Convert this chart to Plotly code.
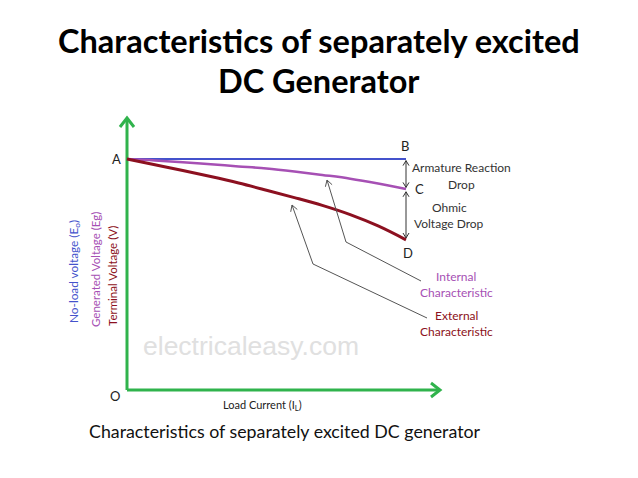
import math
import plotly.graph_objects as go

# ---- data (load current in arbitrary units, voltages in % of no-load) ----
load_current = [0, 1, 2, 3, 4, 5, 6, 7, 8, 9, 10]
no_load_voltage = [100, 100, 100, 100, 100, 100, 100, 100, 100, 100, 100]
generated_voltage = [100, 99.4, 98.6, 97.7, 96.8, 95.9, 94.6, 93.1, 91.5, 89.4, 87.0]
terminal_voltage = [100, 97.5, 95.0, 92.4, 89.6, 86.5, 83.3, 79.9, 75.9, 71.0, 65.0]

# screen-pixel -> data helpers for placing labels (origin at screen pixel 127,390)
PX_X, PX_Y = 27.9, 2.31
PAGE_OFF = 8  # default body margin of the html page
def X(px):
    return (px - 127) / PX_X
def Y(py):
    return (390 - py) / PX_Y
def PX(x):
    return 127 + x * PX_X
def PY(y):
    return 390 - y * PX_Y

BLUE = "#4452cc"
PURPLE = "#a650b4"
DARKRED = "#8c1020"
GREEN = "#30b34c"
ARROW = "#555555"
FONT = "Lato"

fig = go.Figure()

def seg(xs, ys, color, width):
    fig.add_trace(go.Scatter(x=xs, y=ys, mode="lines", line=dict(color=color, width=width),
                             hoverinfo="skip"))

def head(tx, ty, fx, fy, color, width, L, W):
    """open chevron at data point (tx,ty) pointing away from (fx,fy); sizes in pixels"""
    ptx, pty, pfx, pfy = PX(tx), PY(ty), PX(fx), PY(fy)
    dx, dy = ptx - pfx, pty - pfy
    n = math.hypot(dx, dy)
    ux, uy = dx / n, dy / n
    bx, by = ptx - ux * L, pty - uy * L
    lx, ly = bx - uy * W, by + ux * W
    rx, ry = bx + uy * W, by - ux * W
    seg([X(lx), X(ptx), X(rx)], [Y(ly), Y(pty), Y(ry)], color, width)

# green axes with open arrowheads
x_tip, y_tip = X(440), Y(118)
seg([0, 0], [0, y_tip], GREEN, 3)
seg([0, x_tip], [0, 0], GREEN, 3)
head(0, y_tip, 0, 0, GREEN, 3, 9, 7)
head(x_tip, 0, 0, 0, GREEN, 3, 9, 7)

# characteristic curves
fig.add_trace(go.Scatter(x=load_current, y=no_load_voltage, mode="lines",
                         line=dict(color=BLUE, width=2.2), name="No-load"))
fig.add_trace(go.Scatter(x=load_current, y=generated_voltage, mode="lines",
                         line=dict(color=PURPLE, width=2.5, shape="spline"), name="Internal"))
fig.add_trace(go.Scatter(x=load_current, y=terminal_voltage, mode="lines",
                         line=dict(color=DARKRED, width=3, shape="spline"), name="External"))

# pointer polylines (text -> elbow -> tip)
def pointer(pts):
    xs = [X(p[0]) for p in pts]
    ys = [Y(p[1]) for p in pts]
    seg(xs, ys, ARROW, 1)
    head(xs[-1], ys[-1], xs[-2], ys[-2], ARROW, 1, 6, 3.5)

pointer([(421, 281), (346, 242), (327, 180)])
pointer([(427, 318), (313, 264), (292, 205)])

# double-headed drop arrows
def double(x, y0, y1):
    seg([x, x], [y0, y1], "#333333", 1)
    head(x, y0, x, y1, "#333333", 1, 5, 3)
    head(x, y1, x, y0, "#333333", 1, 5, 3)

double(10, no_load_voltage[-1] - 0.7, generated_voltage[-1] + 0.7)
double(10, generated_voltage[-1] - 1.2, terminal_voltage[-1] + 0.8)

ann = []
def text(px, py, s, size=12, color="#333333", angle=0, family=FONT):
    ann.append(dict(x=X(px), y=Y(py), xref="x", yref="y", text=s, showarrow=False,
                    font=dict(family=family, size=size, color=color), textangle=angle,
                    xanchor="center", yanchor="middle"))

text(116, 159, "A", 13, "#222222")
text(405, 146, "B", 13, "#222222")
text(419, 189, "C", 13, "#222222")
text(408, 253, "D", 13, "#222222")
text(115, 396, "O", 13, "#222222")
text(461, 167, "Armature Reaction", 12)
text(461, 184, "Drop", 12)
text(449, 207, "Ohmic", 12)
text(449, 223, "Voltage Drop", 12)
text(456, 276, "Internal", 12, PURPLE)
text(456, 292, "Characteristic", 12, PURPLE)
text(456, 315, "External", 12, DARKRED)
text(456, 331, "Characteristic", 12, DARKRED)
text(262, 405, "Load Current (I<sub>L</sub>)", 11, "#222222")
text(74, 272, "No-load voltage (E<sub>o</sub>)", 11.8, BLUE, -90)
text(95, 270, "Generated Voltage (Eg)", 11.5, PURPLE, -90)
text(112, 276, "Terminal Voltage (V)", 11.5, DARKRED, -90)
text(251, 346, "electricaleasy.com", 26.5, "#e0e0e0", 0, "Liberation Sans")
text(285, 431, "Characteristics of separately excited DC generator", 17.8, "#111111")
text(319, 40, "<b>Characteristics of separately excited</b>", 32.5, "#000000")
text(319, 80, "<b>DC Generator</b>", 32.5, "#000000")

fig.update_layout(
    width=638 - PAGE_OFF, height=478 - PAGE_OFF,
    margin=dict(l=0, r=0, t=0, b=0),
    paper_bgcolor="white", plot_bgcolor="white",
    showlegend=False,
    xaxis=dict(range=[X(PAGE_OFF), X(638)], visible=False, fixedrange=True),
    yaxis=dict(range=[Y(478), Y(PAGE_OFF)], visible=False, fixedrange=True),
    annotations=ann,
)

fig.write_html("out.html")
